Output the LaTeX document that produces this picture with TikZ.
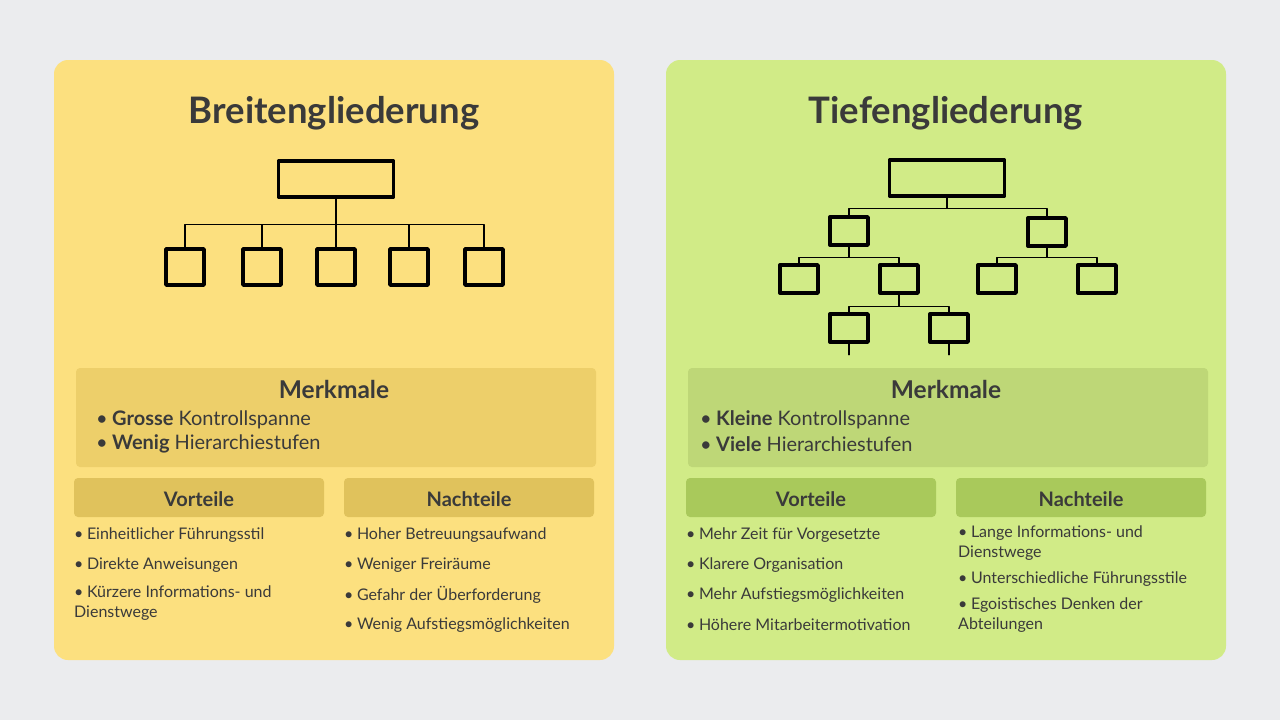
\documentclass[tikz,border=0pt]{standalone}
\usepackage{fontspec}
\setmainfont{Lato}
\usetikzlibrary{positioning}
\definecolor{bgcol}{HTML}{EBECEE}
\definecolor{ylpanel}{HTML}{FCE07F}
\definecolor{ylbox}{HTML}{EDCF6A}
\definecolor{ylhead}{HTML}{E0C25C}
\definecolor{grpanel}{HTML}{D1EB87}
\definecolor{grbox}{HTML}{BED777}
\definecolor{grhead}{HTML}{A9C95B}
\definecolor{txt}{HTML}{3A3A3A}
\tikzset{
  panel/.style={rounded corners=14pt},
  orgbox/.style={draw=black,line width=3.4pt,minimum width=#1,minimum height=36pt,inner sep=0pt},
  orgbox/.default=38pt,
  link/.style={line width=1.5pt},
  title/.style={font=\bfseries\fontsize{36.5}{40}\selectfont,text=txt},
  headtxt/.style={font=\bfseries\fontsize{24.5}{28}\selectfont,text=txt},
  subhead/.style={font=\bfseries\fontsize{20}{24}\selectfont,text=txt},
  merk/.style={anchor=west,inner sep=0pt,align=left,font=\fontsize{20}{24}\selectfont,text=txt},
  item/.style={anchor=west,inner sep=0pt,align=left,font=\fontsize{16}{19.5}\selectfont,text=txt},
}
\newcommand{\bul}{\textbullet\hspace{0.22em}}
\begin{document}
\begin{tikzpicture}[x=1pt,y=-1pt,line cap=round,line join=round]
  \useasboundingbox (0,0) rectangle (1280,720);
  \fill[bgcol] (0,0) rectangle (1280,720);
  % panels
  \fill[ylpanel,panel] (54,60) rectangle (614,660);
  \fill[grpanel,panel] (666,60) rectangle (1226,660);
  \fill[ylbox,rounded corners=4pt] (76,368) rectangle (596,467);
  \fill[grbox,rounded corners=4pt] (688,368) rectangle (1208,467);
  \fill[ylhead,rounded corners=4pt] (74,478) rectangle (324,517);
  \fill[ylhead,rounded corners=4pt] (344,478) rectangle (594,517);
  \fill[grhead,rounded corners=4pt] (686,478) rectangle (936,517);
  \fill[grhead,rounded corners=4pt] (956,478) rectangle (1206,517);

  \node[title] (tbreit) at (334,113) {Breitengliederung};
  \node[title] (ttief) at (946,113) {Tiefengliederung};

  % Breitengliederung
  \node[orgbox=115pt] (b0) at (336,179) {};
  \foreach \n/\x in {1/185,2/262,3/336,4/409,5/484}
    \node[orgbox] (b\n) at (\x,267) {};
  \foreach \n in {1,...,5}
    \draw[link] (b0.south) -- ++(0,26) -| (b\n.north);

  % Tiefengliederung
  \node[orgbox=115pt] (t0) at (947,178) {};
  \node[orgbox,minimum height=28pt] (t1) at (849,231) {};
  \node[orgbox,minimum height=28pt] (t2) at (1047,232) {};
  \node[orgbox,minimum height=28pt] (t11) at (799,279) {};
  \node[orgbox,minimum height=28pt] (t12) at (899,279) {};
  \node[orgbox,minimum height=28pt] (t21) at (997,279) {};
  \node[orgbox,minimum height=28pt] (t22) at (1097,279) {};
  \node[orgbox,minimum height=28pt] (t121) at (849,328) {};
  \node[orgbox,minimum height=28pt] (t122) at (949,328) {};
  \foreach \c in {t1,t2}
    \draw[link] (t0.south) -- ++(0,11) -| (\c.north);
  \foreach \c in {t11,t12}
    \draw[link] (t1.south) -- ++(0,11) -| (\c.north);
  \foreach \c in {t21,t22}
    \draw[link] (t2.south) -- ++(0,10) -| (\c.north);
  \foreach \c in {t121,t122}
    \draw[link] (t12.south) -- ++(0,12) -| (\c.north);
  \draw[link] (t121.south) -- ++(0,11);
  \draw[link] (t122.south) -- ++(0,11);

  % Merkmale
  \node[headtxt] (mb) at (334,389) {Merkmale};
  \node[merk] (mb1) at (96,420) {\bul\textbf{Grosse} Kontrollspanne};
  \node[merk] (mb2) at (96,444) {\bul\textbf{Wenig} Hierarchiestufen};
  \node[headtxt] (mt) at (946,389) {Merkmale};
  \node[merk] (mt1) at (700,420) {\bul\textbf{Kleine} Kontrollspanne};
  \node[merk] (mt2) at (700,444) {\bul\textbf{Viele} Hierarchiestufen};

  % Vorteile / Nachteile
  \node[subhead] (vb) at (199,499) {Vorteile};
  \node[subhead] (nb) at (469,499) {Nachteile};
  \node[subhead] (vt) at (811,499) {Vorteile};
  \node[subhead] (nt) at (1081,499) {Nachteile};

  \node[item] at (74,535) {\bul Einheitlicher Führungsstil};
  \node[item] at (74,565) {\bul Direkte Anweisungen};
  \node[item] at (74,603) {\bul Kürzere Informations- und\\Dienstwege};
  \node[item] at (344,535) {\bul Hoher Betreuungsaufwand};
  \node[item] at (344,565) {\bul Weniger Freiräume};
  \node[item] at (344,595) {\bul Gefahr der Überforderung};
  \node[item] at (344,625) {\bul Wenig Aufstiegsmöglichkeiten};

  \node[item] at (686,535) {\bul Mehr Zeit für Vorgesetzte};
  \node[item] at (686,565) {\bul Klarere Organisation};
  \node[item] at (686,595) {\bul Mehr Aufstiegsmöglichkeiten};
  \node[item] at (686,625) {\bul Höhere Mitarbeitermotivation};
  \node[item] at (958,543) {\bul Lange Informations- und\\Dienstwege};
  \node[item] at (958,579) {\bul Unterschiedliche Führungsstile};
  \node[item] at (958,615) {\bul Egoistisches Denken der\\Abteilungen};
\end{tikzpicture}
\end{document}
